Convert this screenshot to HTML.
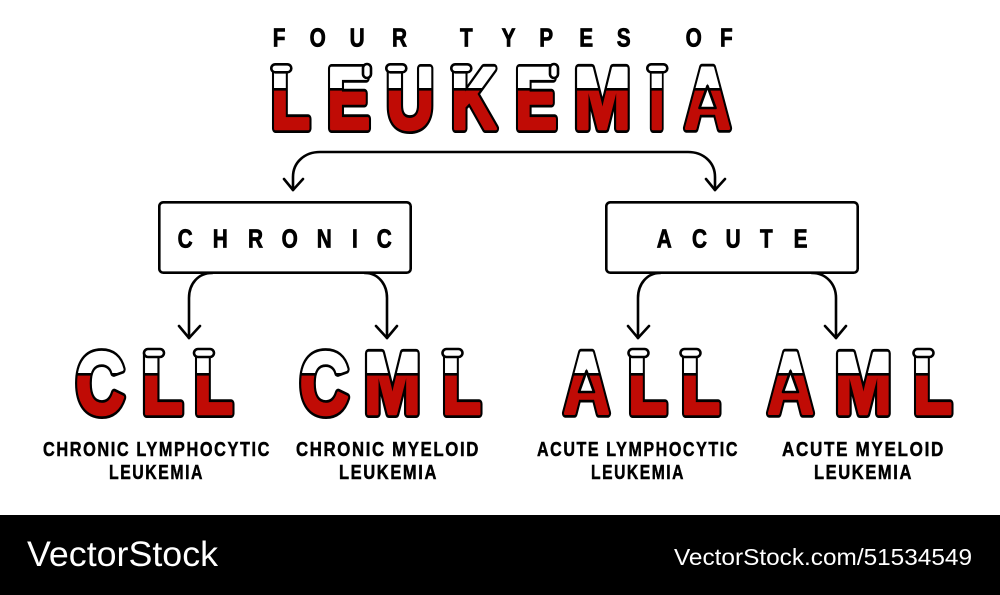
<!DOCTYPE html>
<html>
<head>
<meta charset="utf-8">
<style>
html,body{margin:0;padding:0;background:#fff}
svg{display:block}
text{font-family:"Liberation Sans",sans-serif;font-weight:bold}
.big text,.m text{font-size:87px}
.cap{fill:#fff;stroke:#000;stroke-width:2.6}
.ctr{fill:#fff;stroke:#000;stroke-width:2.6;stroke-linejoin:round}
.ln{fill:none;stroke:#000;stroke-width:2.6;stroke-linecap:round;stroke-linejoin:round}
.sub{font-size:20.5px;letter-spacing:2px;fill:#000;stroke:#000;stroke-width:.5}
.lab{font-size:26px;fill:#000;stroke:#000;stroke-width:.8}
</style>
</head>
<body>
<svg width="1000" height="595" viewBox="0 0 1000 595" xmlns="http://www.w3.org/2000/svg">
<rect width="1000" height="595" fill="#fff"/>
<defs>
<mask id="cb" maskUnits="userSpaceOnUse" x="0" y="0" width="1000" height="595">
<g class="m" fill="#fff" stroke="#fff" stroke-width="3.4" stroke-linejoin="round">
<text x="271" y="128.4" textLength="39.2" lengthAdjust="spacingAndGlyphs">L</text>
<text x="327" y="128.4" textLength="43.2" lengthAdjust="spacingAndGlyphs">E</text>
<text x="386.1" y="128.4" textLength="47.9" lengthAdjust="spacingAndGlyphs">U</text>
<text x="451" y="128.4" textLength="45.4" lengthAdjust="spacingAndGlyphs">K</text>
<text x="515" y="128.4" textLength="42.2" lengthAdjust="spacingAndGlyphs">E</text>
<text x="573.9" y="128.4" textLength="57" lengthAdjust="spacingAndGlyphs">M</text>
<text x="649" y="128.4" textLength="15.5" lengthAdjust="spacingAndGlyphs">I</text>
<text x="684.6" y="128.4" textLength="45.9" lengthAdjust="spacingAndGlyphs">A</text>
</g>
</mask>
<mask id="cs" maskUnits="userSpaceOnUse" x="0" y="0" width="1000" height="595">
<g class="m" fill="#fff" stroke="#fff" stroke-width="3.4" stroke-linejoin="round">
<text x="75.8" y="413.4" textLength="48.9" lengthAdjust="spacingAndGlyphs">C</text>
<text x="141.9" y="413.4" textLength="41.1" lengthAdjust="spacingAndGlyphs">L</text>
<text x="194" y="413.4" textLength="39.2" lengthAdjust="spacingAndGlyphs">L</text>
<text x="299.8" y="413.4" textLength="48.9" lengthAdjust="spacingAndGlyphs">C</text>
<text x="363.9" y="413.4" textLength="57" lengthAdjust="spacingAndGlyphs">M</text>
<text x="442" y="413.4" textLength="39.2" lengthAdjust="spacingAndGlyphs">L</text>
<text x="563.6" y="413.4" textLength="45.9" lengthAdjust="spacingAndGlyphs">A</text>
<text x="628" y="413.4" textLength="39.2" lengthAdjust="spacingAndGlyphs">L</text>
<text x="681" y="413.4" textLength="39.2" lengthAdjust="spacingAndGlyphs">L</text>
<text x="767.6" y="413.4" textLength="45.9" lengthAdjust="spacingAndGlyphs">A</text>
<text x="834.9" y="413.4" textLength="57" lengthAdjust="spacingAndGlyphs">M</text>
<text x="913" y="413.4" textLength="39.2" lengthAdjust="spacingAndGlyphs">L</text>
</g>
</mask>
</defs>

<text class="lab" transform="translate(0,46.6) scale(.8,1)" y="0" x="341 387 437 490 575 627 674 724 771 857 900">FOURTYPESOF</text>

<!-- LEUKEMIA -->
<g class="big" fill="#000" stroke="#000" stroke-width="9" stroke-linejoin="round">
<text x="271" y="128.4" textLength="39.2" lengthAdjust="spacingAndGlyphs">L</text>
<text x="327" y="128.4" textLength="43.2" lengthAdjust="spacingAndGlyphs">E</text>
<text x="386.1" y="128.4" textLength="47.9" lengthAdjust="spacingAndGlyphs">U</text>
<text x="451" y="128.4" textLength="45.4" lengthAdjust="spacingAndGlyphs">K</text>
<text x="515" y="128.4" textLength="42.2" lengthAdjust="spacingAndGlyphs">E</text>
<text x="573.9" y="128.4" textLength="57" lengthAdjust="spacingAndGlyphs">M</text>
<text x="649" y="128.4" textLength="15.5" lengthAdjust="spacingAndGlyphs">I</text>
<text x="684.6" y="128.4" textLength="45.9" lengthAdjust="spacingAndGlyphs">A</text>
</g>
<g mask="url(#cb)">
<rect x="260" y="55" width="480" height="35" fill="#fff"/>
<rect x="260" y="90" width="480" height="50" fill="#c00b05"/>
<rect x="260" y="88" width="480" height="2.6" fill="#000"/>
</g>
<polygon class="ctr" points="707.5,86 699.5,108 715.5,108"/>
<g class="cap">
<rect x="271.3" y="64.3" width="20" height="8" rx="4"/>
<rect x="386.3" y="64.3" width="20" height="8" rx="4"/>
<rect x="451.3" y="64.3" width="20" height="8" rx="4"/>
<rect x="647.3" y="64.3" width="20" height="8" rx="4"/>
<rect x="363" y="64" width="8" height="14" rx="4"/>
<rect x="550" y="64" width="8" height="14" rx="4"/>
</g>

<!-- small letters -->
<g class="big" fill="#000" stroke="#000" stroke-width="9" stroke-linejoin="round">
<text x="75.8" y="413.4" textLength="48.9" lengthAdjust="spacingAndGlyphs">C</text>
<text x="141.9" y="413.4" textLength="41.1" lengthAdjust="spacingAndGlyphs">L</text>
<text x="194" y="413.4" textLength="39.2" lengthAdjust="spacingAndGlyphs">L</text>
<text x="299.8" y="413.4" textLength="48.9" lengthAdjust="spacingAndGlyphs">C</text>
<text x="363.9" y="413.4" textLength="57" lengthAdjust="spacingAndGlyphs">M</text>
<text x="442" y="413.4" textLength="39.2" lengthAdjust="spacingAndGlyphs">L</text>
<text x="563.6" y="413.4" textLength="45.9" lengthAdjust="spacingAndGlyphs">A</text>
<text x="628" y="413.4" textLength="39.2" lengthAdjust="spacingAndGlyphs">L</text>
<text x="681" y="413.4" textLength="39.2" lengthAdjust="spacingAndGlyphs">L</text>
<text x="767.6" y="413.4" textLength="45.9" lengthAdjust="spacingAndGlyphs">A</text>
<text x="834.9" y="413.4" textLength="57" lengthAdjust="spacingAndGlyphs">M</text>
<text x="913" y="413.4" textLength="39.2" lengthAdjust="spacingAndGlyphs">L</text>
</g>
<g mask="url(#cs)">
<rect x="60" y="340" width="900" height="35" fill="#fff"/>
<rect x="60" y="375" width="900" height="50" fill="#c00b05"/>
<rect x="60" y="373" width="900" height="2.6" fill="#000"/>
</g>
<polygon class="ctr" points="586.5,371 579,392 594,392"/>
<polygon class="ctr" points="790.5,371 783,392 798,392"/>
<g class="cap">
<rect x="144" y="349" width="20" height="8" rx="4"/>
<rect x="194" y="349" width="20" height="8" rx="4"/>
<rect x="442.5" y="349" width="20" height="8" rx="4"/>
<rect x="628.5" y="349" width="20" height="8" rx="4"/>
<rect x="680.5" y="349" width="20" height="8" rx="4"/>
<rect x="913.5" y="349" width="20" height="8" rx="4"/>
</g>

<!-- connectors -->
<g class="ln">
<path d="M293 190V177C293 162 305 152 320 152H688C703 152 715 162 715 177V190"/>
<path d="M284 179L293 190L303 179"/>
<path d="M706 179L715 190L725 179"/>
<rect x="159.3" y="202.3" width="251.4" height="70.4" rx="4"/>
<rect x="606.3" y="202.3" width="251.4" height="70.4" rx="4"/>
<path d="M212 273C198 273 189 284 189 298V338"/>
<path d="M179 326L189 338L200 326"/>
<path d="M365 273C378 273 387 284 387 298V338"/>
<path d="M376 326L387 338L397 326"/>
<path d="M660 273C647 273 638 284 638 298V338"/>
<path d="M628 326L638 338L649 326"/>
<path d="M812 273C826 273 836 284 836 298V338"/>
<path d="M825 326L836 338L846 326"/>
</g>

<text class="lab" transform="translate(0,247.6) scale(.8,1)" y="0" x="222 266 310 352 396 440 471">CHRONIC</text>
<text class="lab" transform="translate(0,247.6) scale(.8,1)" y="0" x="821 865 907 950 992">ACUTE</text>

<!-- captions -->
<text class="sub" x="43" y="456" textLength="228" lengthAdjust="spacingAndGlyphs">CHRONIC  LYMPHOCYTIC</text>
<text class="sub" x="109" y="479" textLength="95" lengthAdjust="spacingAndGlyphs">LEUKEMIA</text>
<text class="sub" x="296" y="456" textLength="184" lengthAdjust="spacingAndGlyphs">CHRONIC  MYELOID</text>
<text class="sub" x="339" y="479" textLength="99" lengthAdjust="spacingAndGlyphs">LEUKEMIA</text>
<text class="sub" x="537" y="456" textLength="202" lengthAdjust="spacingAndGlyphs">ACUTE  LYMPHOCYTIC</text>
<text class="sub" x="591" y="479" textLength="94" lengthAdjust="spacingAndGlyphs">LEUKEMIA</text>
<text class="sub" x="782" y="456" textLength="163" lengthAdjust="spacingAndGlyphs">ACUTE  MYELOID</text>
<text class="sub" x="814" y="479" textLength="99" lengthAdjust="spacingAndGlyphs">LEUKEMIA</text>

<!-- footer -->
<rect x="0" y="515" width="1000" height="80" fill="#000"/>
<text x="27" y="566" fill="#fff" style="font-size:35px;font-weight:normal" textLength="191" lengthAdjust="spacingAndGlyphs">VectorStock</text>
<text x="674" y="565" fill="#fff" style="font-size:23px;font-weight:normal" textLength="298" lengthAdjust="spacingAndGlyphs">VectorStock.com/51534549</text>
</svg>
</body>
</html>
